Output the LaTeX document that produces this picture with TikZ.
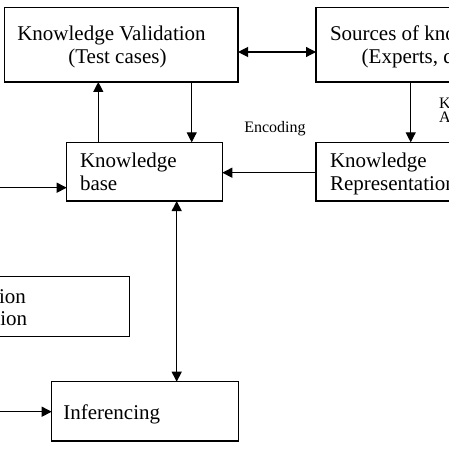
\documentclass[tikz,border=0pt]{standalone}
\usepackage{fontspec}
\setmainfont{Liberation Serif}
\usetikzlibrary{arrows.meta}
\tikzset{
  box/.style={draw=black, line width=1.2pt, rectangle, inner sep=0pt, outer sep=0pt},
  txt/.style={anchor=base west, inner sep=0pt, outer sep=0pt, font=\fontsize{21}{23}\selectfont},
  smalltxt/.style={anchor=base west, inner sep=0pt, outer sep=0pt, font=\fontsize{16}{18}\selectfont},
  arr/.style={draw=black, line width=1.2pt, -{Triangle[length=10pt,width=10pt]}},
  dbl/.style={draw=black, line width=1.2pt, {Triangle[length=10pt,width=10pt]}-{Triangle[length=10pt,width=10pt]}},
}
\begin{document}
\begin{tikzpicture}[x=1pt, y=-1pt]
\path[use as bounding box, clip] (0,0) rectangle (449,449);
\fill[white] (0,0) rectangle (449,449);
% boxes
\node[box, minimum width=233.7pt, minimum height=74.7pt] (val) at (121.2,44.6) {};
\node[box, minimum width=244pt, minimum height=74.7pt] (src) at (438,44.6) {};
\node[box, minimum width=155.6pt, minimum height=58.7pt] (kb) at (144.5,171.7) {};
\node[box, minimum width=244pt, minimum height=58.7pt] (kr) at (438,171.7) {};
\node[box, minimum width=249.3pt, minimum height=59.6pt] (lb) at (4.65,306.5) {};
\node[box, minimum width=186.6pt, minimum height=59.3pt] (inf) at (145,411.35) {};
% texts
\node[txt] (t1) at (17.3,40.3) {Knowledge Validation};
\node[txt] (t2) at (68.3,63.3) {(Test cases)};
\node[txt] (t3) at (330,40.3) {Sources of knowledge};
\node[txt] (t4) at (361.7,63.3) {(Experts, documents)};
\node[txt] (t5) at (80,167.7) {Knowledge};
\node[txt] (t6) at (80,190.7) {base};
\node[txt] (t7) at (330,167.7) {Knowledge};
\node[txt] (t8) at (330,190.7) {Representation};
\node[txt] (t9) at (-75.5,303.3) {Explanation};
\node[txt] (t10) at (-75.5,325) {Justification};
\node[txt] (t11) at (63.3,419) {Inferencing};
\node[smalltxt] (enc) at (244.3,132.7) {Encoding};
\node[smalltxt] (ka1) at (439,108.3) {Knowledge};
\node[smalltxt] (ka2) at (439,122.7) {Acquisition};
% free ends
\coordinate (inA) at (-5,187.7);
\coordinate (inB) at (-5,411.7);
% connectors
\draw[dbl] (val.east |- 0,52) -- (src.west |- 0,52);
\draw[arr] (kb.north -| 98.3,0) -- (val.south -| 98.3,0);
\draw[arr] (val.south -| 191.7,0) -- (kb.north -| 191.7,0);
\draw[arr] (src.south -| 410.7,0) -- (kr.north -| 410.7,0);
\draw[arr] (kr.west |- 0,172.7) -- (kb.east |- 0,172.7);
\draw[arr] (inA) -- (kb.west |- inA);
\draw[dbl] (kb.south -| 176.7,0) -- (inf.north -| 176.7,0);
\draw[arr] (inB) -- (inf.west |- inB);
\end{tikzpicture}
\end{document}
